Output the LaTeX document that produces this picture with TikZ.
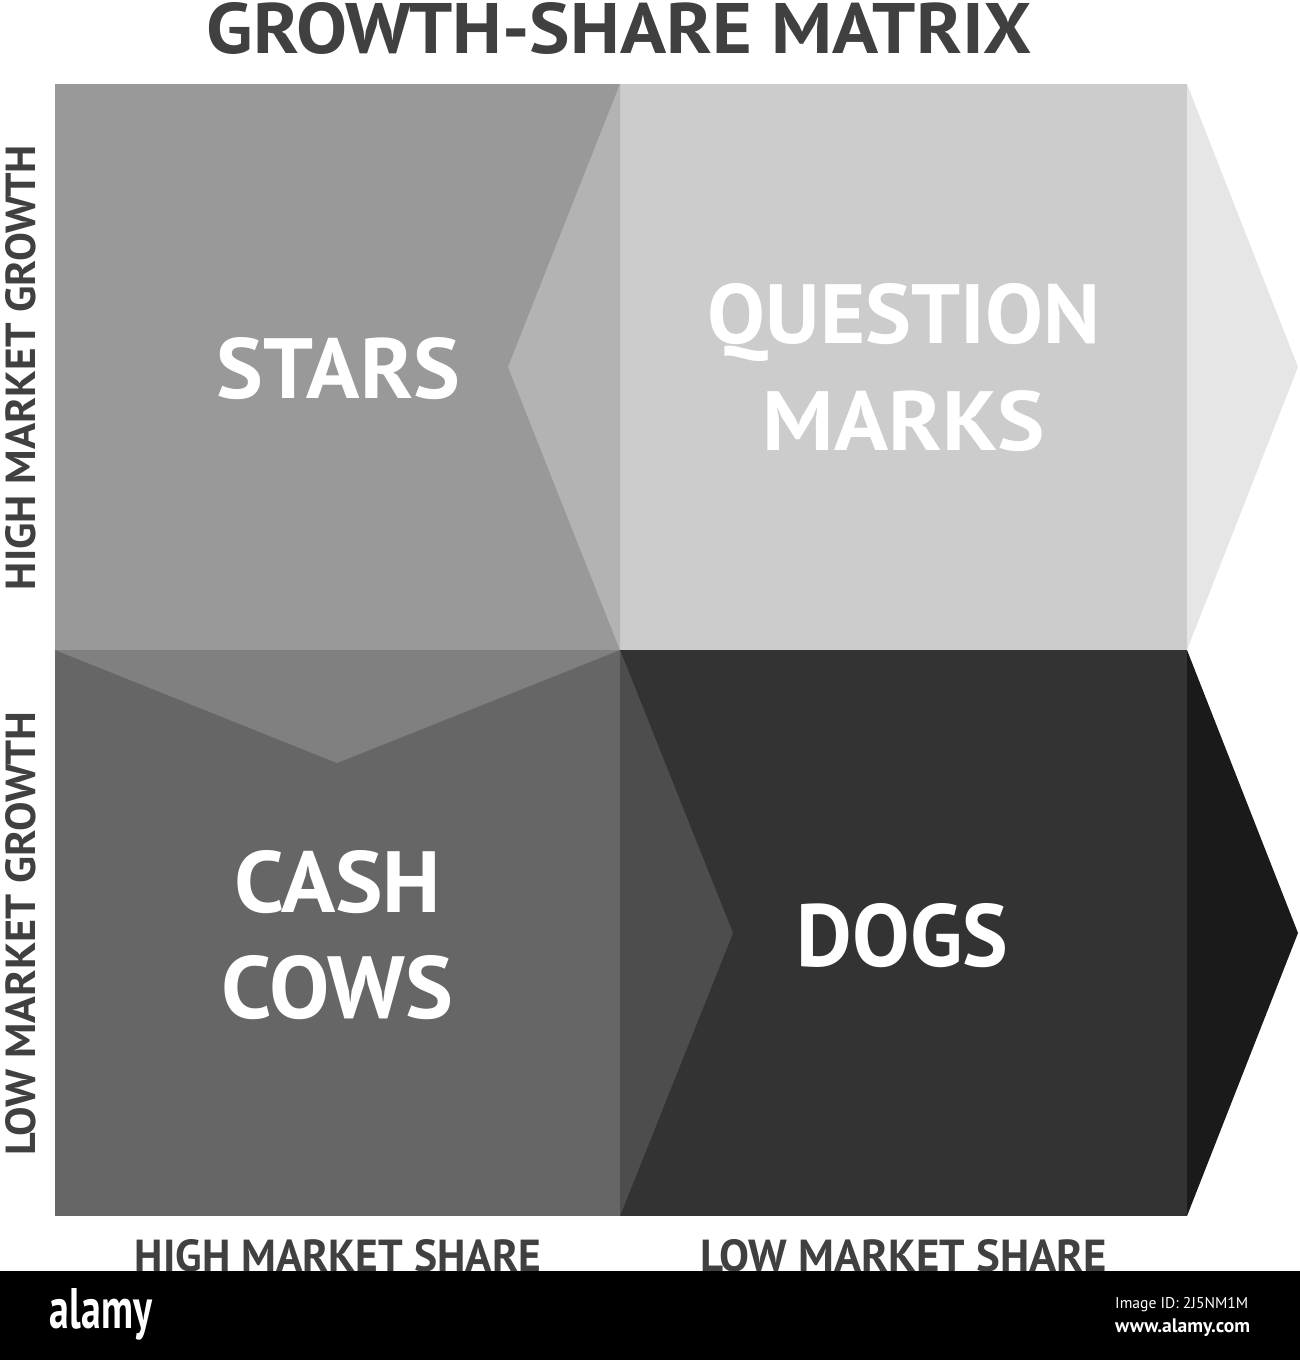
\documentclass[tikz,border=0pt]{standalone}
\usepackage{fontspec}
\setmainfont{PT Sans}
\usepackage{graphicx}
\begin{document}
\begin{tikzpicture}[x=1pt,y=1pt,yscale=-1,
  cell/.style={inner sep=0pt,anchor=base,text=white,font=\bfseries},
  axis/.style={inner sep=0pt,anchor=base,text={rgb,255:red,64;green,64;blue,64},font=\bfseries},
  band/.style={inner sep=0pt,text=white}]
\useasboundingbox (0,0) rectangle (1300,1360);

% quadrants
\fill [fill={rgb, 255:red, 153; green, 153; blue, 153 }] (55,84) rectangle (620,650) ;
\fill [fill={rgb, 255:red, 204; green, 204; blue, 204 }] (620,84) rectangle (1187,650) ;
\fill [fill={rgb, 255:red, 102; green, 102; blue, 102 }] (55,650) rectangle (620,1216) ;
\fill [fill={rgb, 255:red, 51; green, 51; blue, 51 }] (620,650) rectangle (1187,1216) ;

% chevrons
\fill [fill={rgb, 255:red, 179; green, 179; blue, 179 }] (620,84) -- (508,367) -- (620,650) -- cycle ;
\fill [fill={rgb, 255:red, 230; green, 230; blue, 230 }] (1187,84) -- (1298,367) -- (1187,650) -- cycle ;
\fill [fill={rgb, 255:red, 128; green, 128; blue, 128 }] (55,650) -- (620,650) -- (337,763) -- cycle ;
\fill [fill={rgb, 255:red, 77; green, 77; blue, 77 }] (620,650) -- (733,933) -- (620,1216) -- cycle ;
\fill [fill={rgb, 255:red, 26; green, 26; blue, 26 }] (1187,650) -- (1298,933) -- (1187,1216) -- cycle ;

% texts
\node [axis] (title) at (619.5,53) {\resizebox{825pt}{51pt}{GROWTH-SHARE MATRIX}};
\node [cell] (stars) at (338.5,398) {\resizebox{243pt}{61pt}{STARS}};
\node [cell] (question) at (904,343) {\resizebox{392pt}{60pt}{QUESTION}};
\node [cell] (marks) at (904,450) {\resizebox{282pt}{60pt}{MARKS}};
\node [cell] (cash) at (338,912) {\resizebox{206pt}{62pt}{CASH}};
\node [cell] (cows) at (337.5,1018) {\resizebox{231pt}{63pt}{COWS}};
\node [cell] (dogs) at (902.5,966) {\resizebox{211pt}{63pt}{DOGS}};
\node [axis] (highshare) at (338,1271) {\resizebox{406pt}{32pt}{HIGH MARKET SHARE}};
\node [axis] (lowshare) at (904,1271) {\resizebox{406pt}{32pt}{LOW MARKET SHARE}};
\node [axis,rotate=90] (highgrowth) at (35,367.5) {\resizebox{445pt}{30pt}{HIGH MARKET GROWTH}};
\node [axis,rotate=90] (lowgrowth) at (35,933.5) {\resizebox{443pt}{30pt}{LOW MARKET GROWTH}};

% bottom band
\fill [fill={rgb, 255:red, 0; green, 0; blue, 0 }] (0,1271) rectangle (1300,1360) ;
\node [band,anchor=base,font=\bfseries] (logo) at (101,1328) {\resizebox{102pt}{40pt}{alamy}};
\node [band,anchor=base west] (imageid) at (1115,1308) {\resizebox{133pt}{!}{Image ID: 2J5NM1M}};
\node [band,anchor=base west,font=\bfseries] (site) at (1115,1332) {\resizebox{135pt}{!}{www.alamy.com}};

\end{tikzpicture}
\end{document}
